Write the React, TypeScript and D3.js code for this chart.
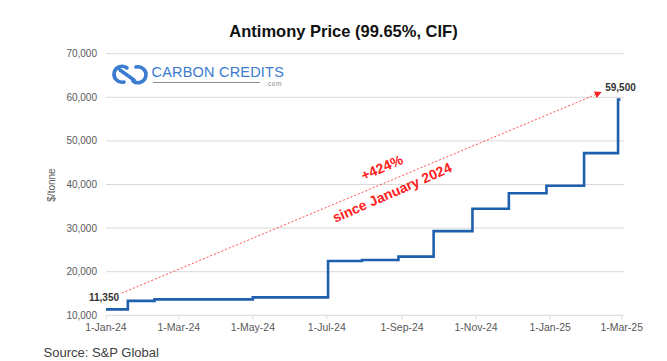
import React from "react";
import * as d3 from "d3";

const W = 667;
const H = 361;

// step dates (price changes) and price in $/tonne
const stepDates = [
  "2024-01-01", "2024-01-19", "2024-02-10", "2024-05-01", "2024-07-02",
  "2024-07-30", "2024-08-29", "2024-09-27", "2024-10-29", "2024-11-28",
  "2024-12-29", "2025-01-29", "2025-02-26", "2025-02-28",
];
const prices = [
  11350, 13300, 13650, 14100, 22450,
  22700, 23450, 29300, 34450, 38000,
  39700, 47200, 59500, 59500,
];
const tickDates = [
  "2024-01-01", "2024-03-01", "2024-05-01", "2024-07-01",
  "2024-09-01", "2024-11-01", "2025-01-01", "2025-03-01",
];
const yTicks = [10000, 20000, 30000, 40000, 50000, 60000, 70000];

const parse = d3.utcParse("%Y-%m-%d");
const fmtDate = d3.utcFormat("%-d-%b-%y");
const fmtNum = d3.format(",");

const LINE = "#1f60ae";
const GRID = "#d9d9d9";
const LABEL = "#595959";
const RED = "#ff2020";
const NARROW = "'Liberation Sans Narrow', 'Arial Narrow', sans-serif";

export default function App() {
  const x = d3.scaleUtc()
    .domain([parse("2024-01-01")!, parse("2025-03-01")!])
    .range([106, 621.7]);
  const y = d3.scaleLinear().domain([10000, 70000]).range([315.3, 53.7]);

  const data = stepDates.map((d, i) => ({ date: parse(d)!, value: prices[i] }));
  const line = d3.line<{ date: Date; value: number }>()
    .x(d => x(d.date))
    .y(d => y(d.value))
    .curve(d3.curveStepAfter);

  const first = data[0];
  const last = data[data.length - 1];

  // dotted trend arrow
  const a0 = { x: x(parse("2024-01-14")!), y: y(15100) };
  const a1 = { x: x(parse("2025-02-12")!), y: y(61150) };
  const angle = Math.atan2(a1.y - a0.y, a1.x - a0.x) * 180 / Math.PI;

  const gridX0 = 106;
  const gridX1 = 624;

  return (
    <svg width={W} height={H} style={{ position: "absolute", left: 0, top: 0, background: "#fff" }}
      fontFamily="'Liberation Sans', Arial, sans-serif">
      <defs>
        <marker id="arrow" viewBox="0 0 10 10" refX="9" refY="5" markerWidth="7" markerHeight="7"
          orient="auto" markerUnits="userSpaceOnUse">
          <path d="M0,0 L10,5 L0,10 z" fill={RED} />
        </marker>
      </defs>

      <text x={343.5} y={36.5} textAnchor="middle" fontSize={16.5} fontWeight="bold"
        fontFamily={NARROW} fill="#111">
        Antimony Price (99.65%, CIF)
      </text>

      {/* gridlines + y labels */}
      {yTicks.map(t => (
        <g key={t}>
          <line x1={gridX0} x2={gridX1} y1={y(t)} y2={y(t)} stroke={GRID} strokeWidth={1} />
          <text x={97} y={y(t) + 3.5} textAnchor="end" fontSize={10} fill={LABEL}>{fmtNum(t)}</text>
        </g>
      ))}

      {/* x ticks */}
      {tickDates.map(d => {
        const dt = parse(d)!;
        return (
          <g key={d}>
            <line x1={x(dt)} x2={x(dt)} y1={y(10000)} y2={y(10000) + 4} stroke={GRID} />
            <text x={x(dt)} y={331} textAnchor="middle" fontSize={10.5} fill={LABEL}
              fontFamily={NARROW}>{fmtDate(dt)}</text>
          </g>
        );
      })}

      <text transform={`translate(55,185) rotate(-90)`} textAnchor="middle" fontSize={10} fill={LABEL}>
        $/tonne
      </text>

      {/* logo */}
      <g fill="none" stroke="#3b7bd0" strokeWidth={3.6} strokeLinecap="round">
        <path d="M127,68 A8,8 0 1 0 124,82" />
        <path d="M133,81 A8,8 0 1 0 136,67" />
        <path d="M120,70 L134,80" />
      </g>
      <text x={151.5} y={77} fontSize={14.5} fill="#3b7bd0" letterSpacing={0.2}
        fontFamily={NARROW}>CARBON CREDITS</text>
      <line x1={153} x2={260} y1={82.5} y2={82.5} stroke="#8a8a8a" strokeWidth={1} />
      <text x={282} y={86} textAnchor="end" fontSize={6.5} fill="#8a8a8a" letterSpacing={0.6}>.com</text>

      {/* trend arrow */}
      <line x1={a0.x} y1={a0.y} x2={a1.x} y2={a1.y} stroke={RED} strokeOpacity={0.8}
        strokeWidth={1} strokeDasharray="2,2" markerEnd="url(#arrow)" />
      <text transform={`translate(384,172) rotate(${angle - 1})`} textAnchor="middle" fontSize={14}
        fontWeight="bold" fill={RED} fontFamily={NARROW}>
        +424%
      </text>
      <text transform={`translate(394,197) rotate(${angle - 1})`} textAnchor="middle" fontSize={14}
        fontWeight="bold" fill={RED} fontFamily={NARROW}>
        since January 2024
      </text>

      {/* price line */}
      <path d={line(data)!} fill="none" stroke={LINE} strokeWidth={2.6} strokeLinejoin="miter" />

      <text x={x(first.date) - 2} y={y(first.value) - 8} textAnchor="middle" fontSize={10}
        fontWeight="bold" fill="#333">{fmtNum(first.value)}</text>
      <text x={x(last.date)} y={y(last.value) - 8} textAnchor="middle" fontSize={10}
        fontWeight="bold" fill="#333">{fmtNum(last.value)}</text>

      <text x={43.5} y={357} fontSize={13} fill="#404040">Source: S&amp;P Global</text>
    </svg>
  );
}
